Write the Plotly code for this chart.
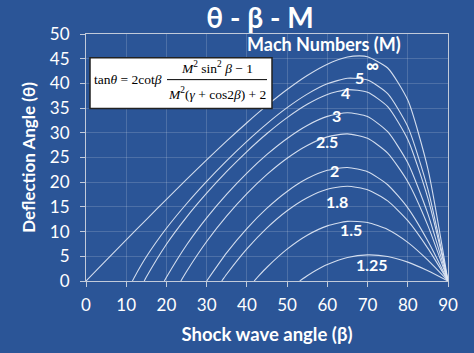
import plotly.graph_objects as go

# Shock wave angle beta (deg) and deflection angle theta (deg) per Mach number
beta_inf = [0, 5, 10, 15, 20, 25, 30, 35, 40, 45, 50, 55, 60, 65, 68, 70, 75, 80, 85, 90]
theta_inf = [0, 4.17, 8.32, 12.44, 16.53, 20.56, 24.50, 28.35, 32.04, 35.54, 38.76, 41.61, 43.90, 45.33, 45.58, 45.40, 43.12, 36.62, 22.70, 0]

beta_5 = [11.54, 12, 15, 20, 25, 30, 35, 40, 45, 50, 55, 60, 65, 70, 75, 80, 85, 90]
theta_5 = [0, 0.73, 4.91, 10.67, 15.64, 20.17, 24.38, 28.28, 31.87, 35.09, 37.83, 39.91, 41.04, 40.68, 37.94, 31.25, 18.60, 0]

beta_4 = [14.48, 15, 20, 25, 30, 35, 40, 45, 50, 55, 60, 65, 70, 75, 80, 85, 90]
theta_4 = [0, 0.80, 7.44, 12.94, 17.78, 22.18, 26.20, 29.85, 33.07, 35.77, 37.76, 38.74, 38.20, 35.30, 28.66, 16.76, 0]

beta_3 = [19.47, 20, 25, 30, 35, 40, 45, 50, 55, 60, 65, 70, 75, 80, 85, 90]
theta_3 = [0, 0.77, 7.28, 12.77, 17.58, 21.85, 25.62, 28.86, 31.49, 33.32, 34.07, 33.28, 30.22, 23.93, 13.60, 0]

beta_25 = [23.58, 25, 30, 35, 40, 45, 50, 55, 60, 65, 70, 75, 80, 85, 90]
theta_25 = [0, 1.93, 7.99, 13.17, 17.68, 21.57, 24.85, 27.44, 29.18, 29.79, 28.88, 25.88, 20.10, 11.21, 0]

beta_2 = [30, 35, 40, 45, 50, 55, 60, 65, 70, 75, 80, 85, 90]
theta_2 = [0, 5.75, 10.62, 14.74, 18.13, 20.73, 22.41, 22.97, 22.12, 19.49, 14.81, 8.08, 0]

beta_18 = [33.75, 35, 40, 45, 50, 55, 60, 65, 70, 75, 80, 85, 90]
theta_18 = [0, 1.41, 6.49, 10.74, 14.21, 16.85, 18.57, 19.18, 18.48, 16.21, 12.21, 6.61, 0]

beta_15 = [41.81, 43, 45, 50, 55, 60, 65, 70, 75, 80, 85, 90]
theta_15 = [0, 1.08, 2.78, 6.44, 9.26, 11.16, 12.06, 11.84, 10.43, 7.82, 4.21, 0]

beta_125 = [53.13, 55, 57, 60, 65, 70, 75, 80, 85, 90]
theta_125 = [0, 1.06, 2.07, 3.33, 4.75, 5.28, 4.95, 3.82, 2.08, 0]

series = [
    ("∞", beta_inf, theta_inf, 71.3, 43.8),
    ("5", beta_5, theta_5, 67.9, 41.2),
    ("4", beta_4, theta_4, 64.6, 38.1),
    ("3", beta_3, theta_3, 62.4, 33.5),
    ("2.5", beta_25, theta_25, 59.9, 28.3),
    ("2", beta_2, theta_2, 61.9, 22.3),
    ("1.8", beta_18, theta_18, 62.4, 16.1),
    ("1.5", beta_15, theta_15, 65.9, 10.4),
    ("1.25", beta_125, theta_125, 71.1, 3.4),
]

x_ticks = [0, 10, 20, 30, 40, 50, 60, 70, 80, 90]
y_ticks = [0, 5, 10, 15, 20, 25, 30, 35, 40, 45, 50]

BG = "rgb(43,85,151)"
LINE = "rgba(225,232,245,0.92)"
FONT = "Lato"

fig = go.Figure()
for name, xs, ys, lx, ly in series:
    fig.add_trace(go.Scatter(x=xs, y=ys, mode="lines", name=name,
                             line=dict(color=LINE, width=1.1, shape="spline", smoothing=0.6),
                             showlegend=False, hoverinfo="skip"))
    fig.add_annotation(x=lx, y=ly, text=("<b>%s</b>" % name), showarrow=False,
                       font=dict(family=FONT, size=(18 if name == "∞" else 16), color="white"),
                       xanchor="center", yanchor="middle")

fig.add_annotation(x=59.2, y=48.0, text="<b>Mach Numbers (M)</b>", showarrow=False,
                   font=dict(family=FONT, size=18, color="white"), xanchor="center", yanchor="middle")

# formula box
fig.add_shape(type="rect", xref="paper", yref="paper",
              x0=(90 - 86) / 362, x1=(272 - 86) / 362, y0=(283 - 109) / 249, y1=(283 - 58) / 249,
              fillcolor="white", line=dict(color="#222", width=1.5), layer="above")
serif = dict(family="Liberation Serif", size=13.5, color="black")
fig.add_annotation(xref="paper", yref="paper", x=(92 - 86) / 362, y=(283 - 80) / 249,
                   text="tan<i>θ</i> = 2cot<i>β</i>", showarrow=False, font=serif,
                   xanchor="left", yanchor="middle")
fig.add_annotation(xref="paper", yref="paper", x=(217 - 86) / 362, y=(283 - 68) / 249,
                   text="<i>M</i><sup>2</sup> sin<sup>2</sup> <i>β</i> − 1", showarrow=False, font=serif,
                   xanchor="center", yanchor="middle")
fig.add_annotation(xref="paper", yref="paper", x=(217 - 86) / 362, y=(283 - 94) / 249,
                   text="<i>M</i><sup>2</sup>(<i>γ</i> + cos2<i>β</i>) + 2", showarrow=False, font=serif,
                   xanchor="center", yanchor="middle")
fig.add_shape(type="line", xref="paper", yref="paper",
              x0=(167 - 86) / 362, x1=(267 - 86) / 362, y0=(283 - 80) / 249, y1=(283 - 80) / 249,
              line=dict(color="black", width=1), layer="above")

axis_common = dict(
    showline=True, linecolor="rgba(210,215,225,0.9)", linewidth=1.2, mirror=True,
    showgrid=True, gridcolor="rgba(255,255,255,0.16)", gridwidth=1,
    ticks="outside", tickcolor="rgba(210,215,225,0.9)", ticklen=5,
    tickfont=dict(family=FONT, size=17, color="white"), zeroline=False,
)
fig.update_xaxes(range=[0, 90], tickvals=x_ticks, ticktext=[str(v) for v in x_ticks],
                 ticklabelstandoff=3,
                 title=dict(text="<b>Shock wave angle (β)</b>", font=dict(family=FONT, size=18.5, color="white"), standoff=14),
                 **axis_common)
fig.update_yaxes(range=[0, 50], tickvals=y_ticks, ticktext=[str(v) for v in y_ticks],
                 ticklabelstandoff=7,
                 title=dict(text="<b>Deflection Angle (θ)</b>", font=dict(family=FONT, size=17, color="white"), standoff=9),
                 **axis_common)

fig.update_layout(
    width=474, height=353,
    margin=dict(l=86, r=26, t=34, b=70),
    paper_bgcolor=BG, plot_bgcolor=BG,
    title=dict(text="<b>θ - β - M</b>", x=260 / 474, xanchor="center", y=1 - 18 / 353, yanchor="middle",
               font=dict(family=FONT, size=28, color="white")),
)

fig.write_html("out.html")
